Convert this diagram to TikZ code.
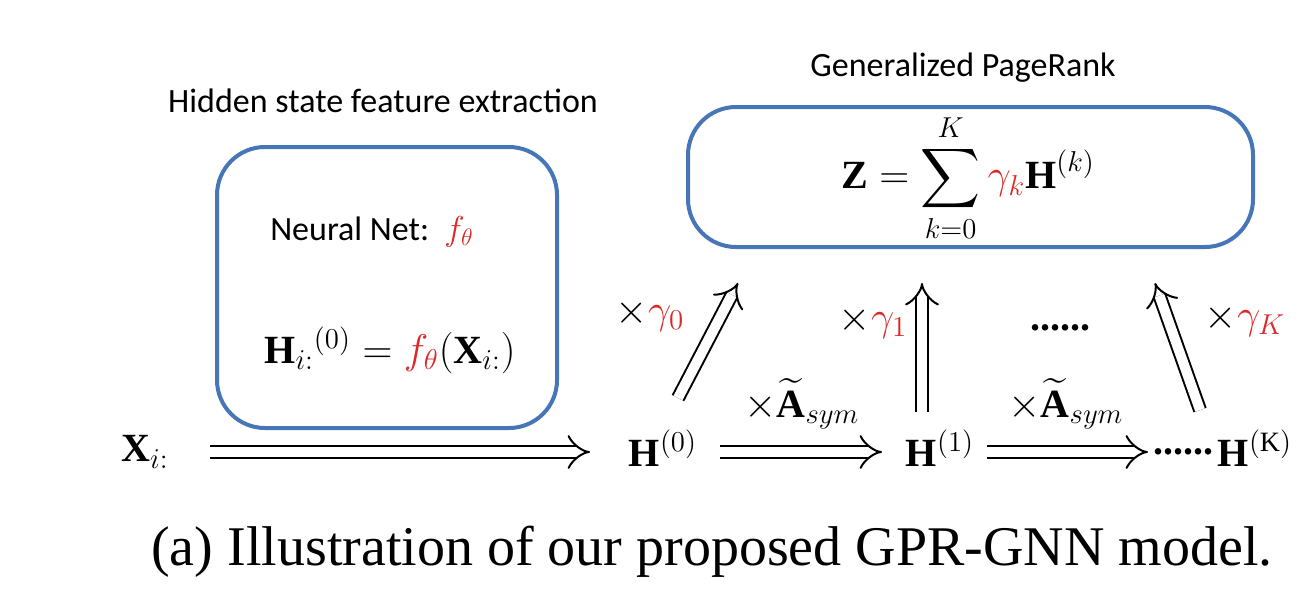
\documentclass[tikz,border=0pt]{standalone}
\usepackage{fontspec}
\usepackage{amsmath}
\setmainfont{Liberation Serif}
\newfontfamily\calib{Carlito}
\usetikzlibrary{arrows.meta}
\definecolor{boxblue}{RGB}{70,118,184}
\definecolor{gred}{RGB}{220,40,40}
\newcommand{\rg}[1]{\textcolor{gred}{#1}}
\begin{document}
\begin{tikzpicture}[x=0.5pt,y=-0.5pt,
    box/.style = {draw=boxblue, line width=2pt, rounded corners=24pt},
    hint/.style = {font=\calib\fontsize{17}{20}\selectfont},
    eq/.style = {font=\fontsize{20}{24}\selectfont, inner sep=1pt},
    dbl/.style = {double, double distance=5pt, line width=1pt, -{Implies}}]
    \useasboundingbox (0,0) rectangle (1310,612);
    % boxes
    \draw[box] (217,147) rectangle (557,428);
    \draw[box] (688,107) rectangle (1253,247);
    \node[hint] (hidtitle) at (383,101) {Hidden state feature extraction};
    \node[hint] (gprtitle) at (963,68) {Generalized PageRank};
    \node[hint] (nnet) at (372,232) {Neural Net:\ \ $\rg{f_\theta}$};
    \node[eq] (h0def) at (390,350) {$\mathbf{H}_{i:}{}^{(0)} = \rg{f_\theta}(\mathbf{X}_{i:})$};
    \node[eq] (zsum) at (968,178) {$\mathbf{Z} = \displaystyle\sum_{k=0}^{K}\rg{\gamma_k}\mathbf{H}^{(k)}$};
    % chain
    \node[eq] (x) at (145,452) {$\mathbf{X}_{i:}$};
    \node[eq] (h0) at (663,448) {$\mathbf{H}^{(0)}$};
    \node[eq] (h1) at (940,448) {$\mathbf{H}^{(1)}$};
    \node[eq] (hk) at (1255,448) {$\mathbf{H}^{(\mathrm{K})}$};
    \node[eq] (dots) at (1183,452) {\textbf{......}};
    \draw[dbl] (210,452) coordinate (xs) -- (590,452) coordinate (xe);
    \draw[dbl] (720,452) coordinate (as) -- (882,452) coordinate (ae);
    \draw[dbl] (987,452) coordinate (bs) -- (1148,452) coordinate (be);
    \node[eq] (a1) at (802,404) {$\times\widetilde{\mathbf{A}}_{sym}$};
    \node[eq] (a2) at (1066,404) {$\times\widetilde{\mathbf{A}}_{sym}$};
    % up arrows
    \coordinate (u0) at (738,283);
    \coordinate (u1) at (922,283);
    \coordinate (uk) at (1155,283);
    \draw[dbl] (678,398) -- (u0);
    \draw[dbl] (922,412) -- (u1);
    \draw[dbl] (1200,410) -- (uk);
    \node[eq] (g0) at (650,315) {$\times\rg{\gamma_0}$};
    \node[eq] (g1) at (873,322) {$\times\rg{\gamma_1}$};
    \node[eq] (gd) at (1060,328) {\textbf{......}};
    \node[eq] (gk) at (1245,320) {$\times\rg{\gamma_K}$};
    \node[font=\fontsize{28}{32}\selectfont] (cap) at (712,552) {(a)\ Illustration of our proposed GPR-GNN model.};
\end{tikzpicture}
\end{document}
